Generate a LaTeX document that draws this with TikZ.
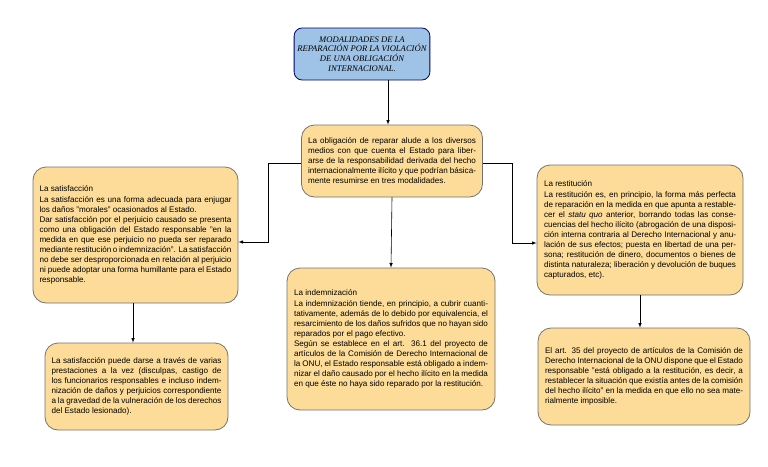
\documentclass[tikz,border=0pt]{standalone}
\usepackage{fontspec}
\setmainfont{Liberation Sans}
\newfontfamily\titlefont{Liberation Serif}
\definecolor{boxfill}{HTML}{FCDC98}
\definecolor{titlefill}{HTML}{9FC3E7}
\begin{document}
\begin{tikzpicture}[x=1pt,y=-1pt,
 box/.style={draw=black!55,line width=0.8pt,fill=boxfill,rounded corners=13pt,inner sep=3pt,font=\fontsize{8.1}{10}\selectfont,align=justify},
 tbox/.style={draw=blue!40!black,line width=0.8pt,fill=titlefill,rounded corners=8pt,font=\titlefont\itshape\fontsize{8.6}{9.6}\selectfont,align=center},
 conn/.style={-latex,line width=0.6pt}]
\useasboundingbox (0,0) rectangle (768,466);
\node[tbox,minimum width=115pt,minimum height=52pt] (t) at (362,54) {MODALIDADES DE LA\\ REPARACIÓN POR LA VIOLACIÓN\\ DE UNA OBLIGACIÓN\\ INTERNACIONAL.};
\node[box,minimum width=181pt,minimum height=72pt,text width=168pt] (c) at (392,161) {La obligación de reparar alude a los diversos medios con que cuenta el Estado para liberarse de la responsabilidad derivada del hecho internacionalmente ilícito y que podrían básicamente resumirse en tres modalidades.};
\node[box,minimum width=205pt,minimum height=136pt,text width=192pt] (s) at (135.5,235) {La satisfacción\\[1pt] La satisfacción es una forma adecuada para enjugar los daños "morales" ocasionados al Estado.\\ Dar satisfacción por el perjuicio causado se presenta como una obligación del Estado responsable "en la medida en que ese perjuicio no pueda ser reparado mediante restitución o indemnización". La satisfacción no debe ser desproporcionada en relación al perjuicio ni puede adoptar una forma humillante para el Estado responsable.};
\node[box,minimum width=206pt,minimum height=130pt,text width=192pt] (r) at (640,230) {La restitución\\[1pt] La restitución es, en principio, la forma más perfecta de reparación en la medida en que apunta a restablecer el \emph{statu quo} anterior, borrando todas las consecuencias del hecho ilícito (abrogación de una disposición interna contraria al Derecho Internacional y anulación de sus efectos; puesta en libertad de una persona; restitución de dinero, documentos o bienes de distinta naturaleza; liberación y devolución de buques capturados, etc).};
\node[box,minimum width=208pt,minimum height=142pt,text width=194pt] (i) at (391,339) {La indemnización\\[1pt] La indemnización tiende, en principio, a cubrir cuantitativamente, además de lo debido por equivalencia, el resarcimiento de los daños sufridos que no hayan sido reparados por el pago efectivo.\\ Según se establece en el art. 36.1 del proyecto de artículos de la Comisión de Derecho Internacional de la ONU, el Estado responsable está obligado a indemnizar el daño causado por el hecho ilícito en la medida en que éste no haya sido reparado por la restitución.};
\node[box,minimum width=183pt,minimum height=87pt,text width=170pt] (s2) at (136.5,386.5) {La satisfacción puede darse a través de varias prestaciones a la vez (disculpas, castigo de los funcionarios responsables e incluso indemnización de daños y perjuicios correspondiente a la gravedad de la vulneración de los derechos del Estado lesionado).};
\node[box,minimum width=212pt,minimum height=97pt,text width=198pt] (r2) at (644,376.5) {El art. 35 del proyecto de artículos de la Comisión de Derecho Internacional de la ONU dispone que el Estado responsable "está obligado a la restitución, es decir, a restablecer la situación que existía antes de la comisión del hecho ilícito" en la medida en que ello no sea materialmente imposible.};
\draw[conn] (t.south -| 388,0) -- (c.north -| 388,0);
\draw[conn] (c.west |- 0,163) -- (268,163) |- (s.east |- 0,242);
\draw[conn] (c.east |- 0,163) -- (512,163) |- (r.west |- 0,243);
\draw[conn] (c.south) -- (i.north);
\draw[conn] (s.south -| 133,0) -- (s2.north -| 133,0);
\draw[conn] (r.south -| 640,0) -- (r2.north -| 640,0);
\end{tikzpicture}
\end{document}
